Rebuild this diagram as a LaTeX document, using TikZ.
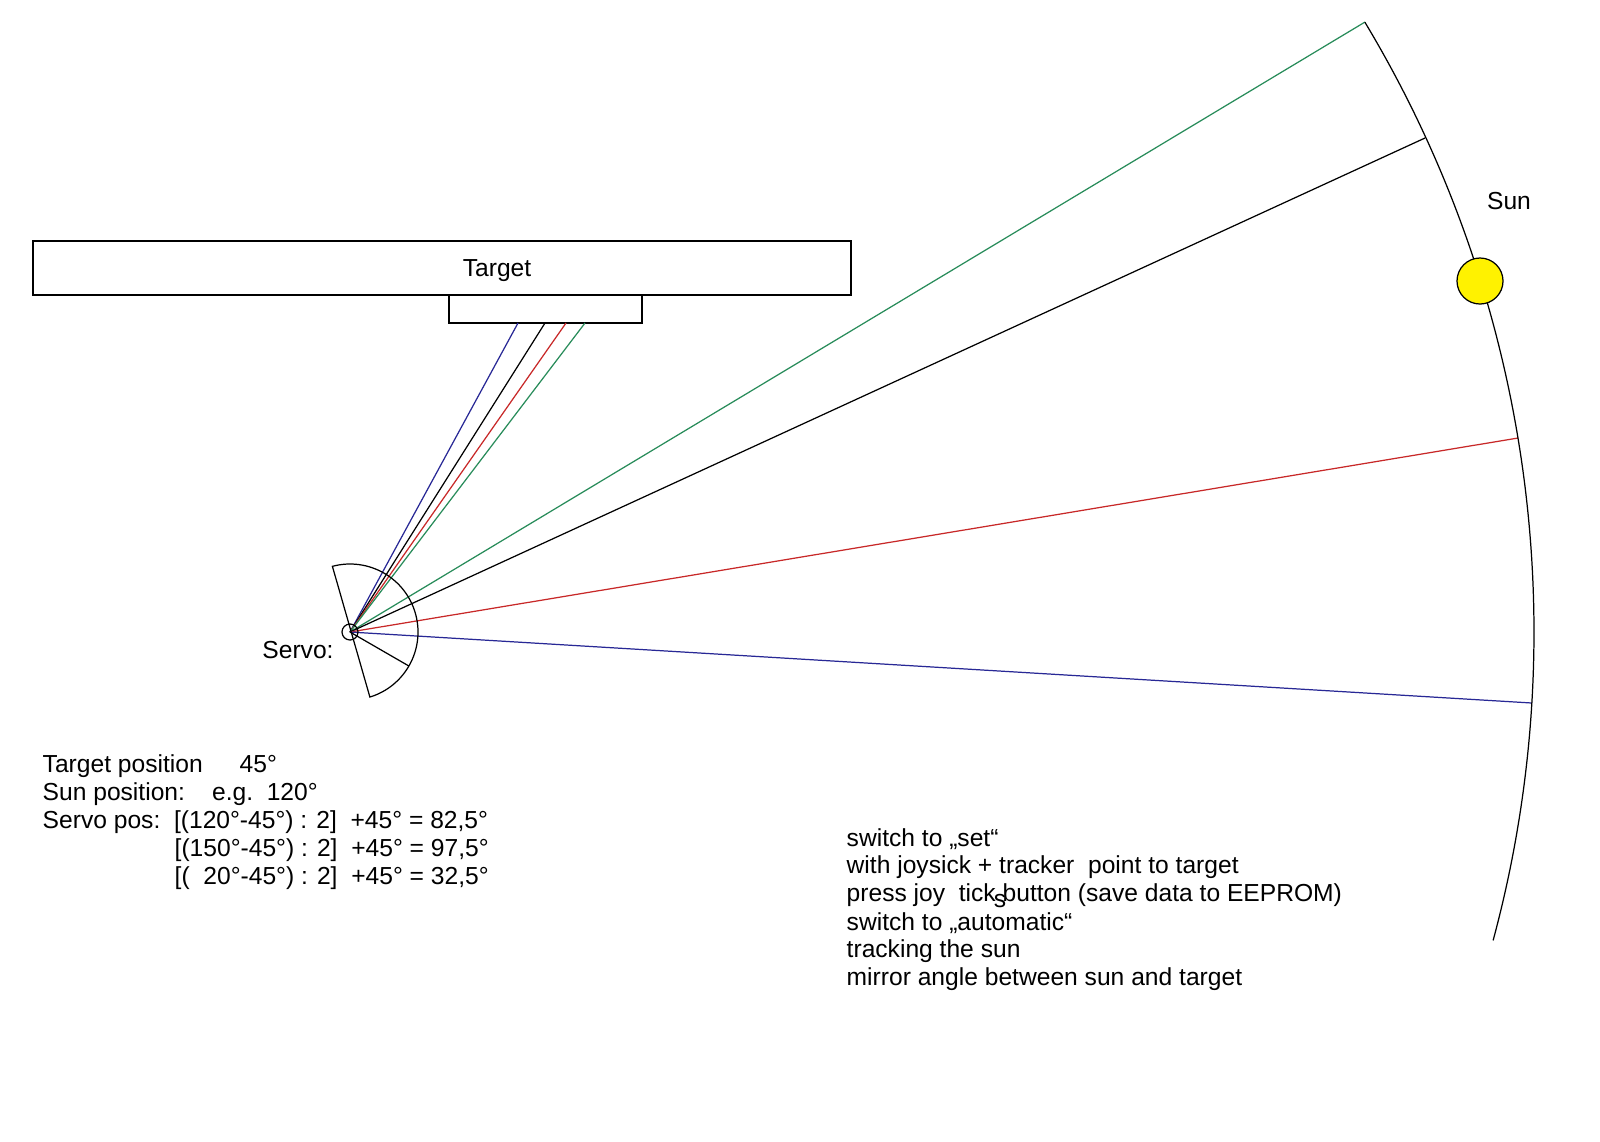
\documentclass[tikz,border=0pt]{standalone}
\usepackage{fontspec}
\setmainfont{Liberation Sans}
\definecolor{rg}{RGB}{40,140,90}
\definecolor{rr}{RGB}{200,40,40}
\definecolor{rb}{RGB}{40,40,150}
\begin{document}
\begin{tikzpicture}[x=0.01cm,y=-0.01cm,
  txt/.style={font=\fontsize{7pt}{8pt}\selectfont,inner sep=0pt},
  ln/.style={line width=0.35pt}]
\useasboundingbox[fill=white] (0,0) rectangle (1600,1141);
\coordinate (S) at (350,632);
% target
\draw[ln] (33,241) rectangle (851,295);
\draw[ln] (449,295) rectangle (642,323);
\node[txt] (tl) at (497,271) {Target};
% target rays
\coordinate (t1) at (518,323);\coordinate (t2) at (545,323);
\coordinate (t3) at (566,323);\coordinate (t4) at (585,323);
\draw[ln,rb] (S) -- (t1);
\draw[ln,black] (S) -- (t2);
\draw[ln,rr] (S) -- (t3);
\draw[ln,rg] (S) -- (t4);
% sun rays
\draw[ln,rg] (S) -- (1365,22);
\draw[ln,black] (S) -- (1425,138);
\draw[ln,rr] (S) -- (1518,438);
\draw[ln,rb] (S) -- (1532,703);
% big arc
\draw[ln] (S) ++(31:1184 and -1184) arc[start angle=31,end angle=-15.1,x radius=1184,y radius=-1184];
% sun
\node[draw,ln,fill=yellow,circle,inner sep=0pt,minimum size=0.46cm] (sun) at (1480,281) {};
\node[txt] (sl) at (1509,201) {Sun};
% servo
\draw[ln] (S) ++(105:68 and -68) arc[start angle=105,end angle=-73,x radius=68,y radius=-68] -- cycle;
\draw[ln] (S) -- ++(-30:68 and -68);
\draw[ln] (S) circle[radius=8];
\node[txt] (sv) at (298,650) {Servo:};
% left text
\node[txt,anchor=west] at (42,766) {Target position\hspace{1.5em}45°};
\node[txt,anchor=west] at (42,794) {Sun position:\hspace{1.1em}e.g.\ \ 120°};
\node[txt,anchor=west] at (42,822) {Servo pos:\ \ [(120°-45°) : 2]\ \ +45° = 82,5°};
\node[txt,anchor=west] at (174,850) {[(150°-45°) : 2]\ \ +45° = 97,5°};
\node[txt,anchor=west] at (174,878) {[(\ \ 20°-45°) : 2]\ \ +45° = 32,5°};
% right text
\node[txt,anchor=west] at (846,839) {switch to „set“};
\node[txt,anchor=west] at (846,867) {with joysick + tracker\ \ point to target};
\node[txt,anchor=west] at (846,895) {press joy\ \ tick button (save data to EEPROM)};
\node[txt] at (1000,901) {s};
\node[txt,anchor=west] at (846,923) {switch to „automatic“};
\node[txt,anchor=west] at (846,951) {tracking the sun};
\node[txt,anchor=west] at (846,979) {mirror angle between sun and target};
\end{tikzpicture}
\end{document}
